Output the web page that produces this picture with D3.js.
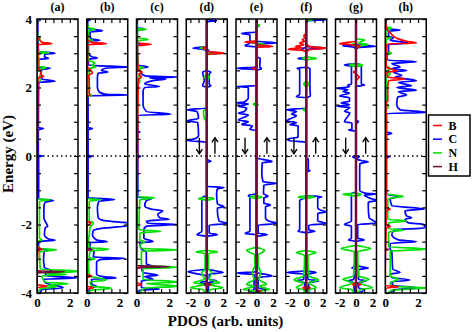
<!DOCTYPE html>
<html><head><meta charset="utf-8">
<script src="https://cdn.jsdelivr.net/npm/d3@7"></script>
<style>
html,body{margin:0;padding:0;background:#fff;}
svg{display:block;}
text{font-family:"Liberation Serif","Times New Roman",serif;font-weight:bold;}
</style></head>
<body>
<svg id="chart" width="474" height="332"></svg>
<script>
// ---------- categories / labels ----------
const panels = ['a','b','c','d','e','f','g','h'];
const spinPanels = ['d','e','f','g'];
const species = ['B','C','N','H'];
const speciesColor = ['#ff0000','#0000ff','#00e000','#6b0f3a'];
const drawOrder = ['C','N','B','H'];
const yTickValues = [-4,-3.5,-3,-2.5,-2,-1.5,-1,-0.5,0,0.5,1,1.5,2,2.5,3,3.5,4];
const yLabelValues = [4,2,0,-2,-4];
const xTicksPlain = [0,0.5,1,1.5,2];
const xTicksSpin = [-2,-1,0,1,2];
const xLabelsPlain = [0,2];
const xLabelsSpin = [-2,0,2];
const arrowDownX = [-0.9,-1.4,-1.5,-1.26];
const arrowUpX = [1.0,1.27,1.15,1.18];
const arrowE = [0.3,0.3,0.3,0.3];

// ---------- panel (a) : [energy, PDOS] ----------
const a_C = [[4,0.05],[3.97,0.2],[3.93,0.05],[3.5,0.05],[3.45,0.15],[3.4,0.05],[3.05,0.1],[3.0,1.1],[2.97,0.5],[2.9,0.45],[2.85,0.7],[2.82,0.1],[2.6,0.1],[2.56,0.8],[2.53,0.3],[2.4,0.25],[2.25,0.3],[2.18,1.1],[2.15,0.1],[0.83,0.08],[0.8,0.4],[0.77,0.08],[0.02,0.08],[0,0.35],[-0.03,0.1],[-1.25,0.1],[-1.3,1.0],[-1.35,0.5],[-1.5,0.42],[-1.8,0.42],[-1.95,0.55],[-2.05,0.65],[-2.1,0.5],[-2.3,0.45],[-2.42,0.7],[-2.46,1.1],[-2.5,0.1],[-2.7,0.1],[-2.74,0.7],[-2.78,0.45],[-3.0,0.4],[-3.25,0.45],[-3.35,0.9],[-3.4,0.5],[-3.5,0.6],[-3.56,2.5],[-3.6,0.4],[-3.7,0.5],[-3.85,1.6],[-3.9,0.3],[-4,0.2]];
const a_N = [[4,0],[3.97,0.1],[3.93,0],[3.45,0.05],[3.42,0.2],[3.38,0],[3.05,0.05],[3.02,0.75],[2.98,0.1],[2.62,0.1],[2.58,0.55],[2.52,0.1],[2.45,0.25],[2.3,0.15],[2.2,0.2],[2.15,0],[-1.25,0],[-1.28,0.8],[-1.32,0.15],[-2.4,0.15],[-2.45,0.3],[-2.5,0],[-2.7,0.1],[-2.74,1.2],[-2.8,0.15],[-3.3,0.2],[-3.37,2.6],[-3.42,0.5],[-3.46,1.8],[-3.5,0.3],[-3.68,0.5],[-3.73,1.9],[-3.78,0.6],[-3.82,1.2],[-3.88,0.2],[-4,0.1]];
const a_B = [[4,0],[3.5,0],[3.4,0.15],[3.32,0.3],[3.28,0.9],[3.25,0.05],[2.6,0.05],[2.5,0.2],[2.38,0.25],[2.32,0.4],[2.28,0.05],[-2.65,0],[-2.72,0.3],[-2.78,0.05],[-3.35,0],[-3.38,0.25],[-3.42,0],[-3.75,0],[-3.8,0.6],[-3.85,0],[-4,0]];
const a_H = [[4,0],[-2.7,0],[-2.73,0.2],[-2.76,0],[-3.35,0],[-3.38,1.7],[-3.41,0],[-4,0]];

// ---------- panel (b) ----------
const b_C = [[4,0.05],[3.97,0.2],[3.94,0.05],[3.72,0.1],[3.66,0.95],[3.62,0.2],[3.5,0.2],[3.42,0.3],[3.38,0.8],[3.35,0.1],[3.0,0.1],[2.9,0.3],[2.86,0.65],[2.83,0.1],[2.65,0.1],[2.6,2.6],[2.57,1.2],[2.5,0.9],[2.45,1.3],[2.42,0.7],[2.3,0.65],[2.0,0.65],[1.88,0.75],[1.8,1.2],[1.78,2.6],[1.76,0.08],[0.83,0.08],[0.8,0.35],[0.77,0.08],[0.02,0.08],[-0.01,0.35],[-0.04,0.08],[-1.22,0.08],[-1.27,1.7],[-1.32,0.75],[-1.5,0.65],[-1.8,0.7],[-1.88,1.0],[-1.93,2.0],[-1.96,2.6],[-2.03,2.6],[-2.07,1.9],[-2.12,0.8],[-2.18,0.4],[-2.3,0.35],[-2.45,0.6],[-2.5,1.25],[-2.53,0.2],[-2.73,0.2],[-2.76,0.45],[-2.95,0.4],[-2.99,2.3],[-3.02,0.9],[-3.1,0.6],[-3.45,0.6],[-3.52,1.0],[-3.56,1.8],[-3.6,0.3],[-3.75,0.3],[-3.8,0.6],[-3.85,0.2],[-4,0.1]];
const b_N = [[4,0],[3.75,0.1],[3.7,0.5],[3.65,0.1],[3.42,0.1],[3.38,0.35],[3.34,0.05],[2.8,0.1],[2.72,0.5],[2.65,0.3],[2.6,0.55],[2.55,0.15],[1.8,0.15],[1.77,0.3],[1.74,0],[-1.24,0],[-1.27,0.85],[-1.32,0.15],[-1.9,0.15],[-1.95,0.4],[-2.1,0.2],[-2.3,0.15],[-2.5,0.1],[-2.68,0.15],[-2.72,1.35],[-2.78,0.2],[-2.97,0.15],[-3.0,0.5],[-3.05,0.1],[-3.5,0.15],[-3.62,1.2],[-3.68,0.2],[-3.8,0.3],[-3.86,1.5],[-3.92,0.3],[-4,0.1]];
const b_B = [[4,0],[3.4,0.05],[3.32,0.3],[3.28,1.2],[3.25,0.05],[2.6,0.05],[2.5,0.25],[2.42,0.35],[2.35,0.1],[2.2,0.15],[1.85,0.15],[1.78,0.2],[1.75,0],[-1.9,0],[-1.95,0.25],[-2.05,0],[-2.7,0],[-2.73,0.3],[-2.77,0],[-3.45,0],[-3.5,0.3],[-3.55,0],[-3.8,0],[-3.85,0.4],[-3.9,0],[-4,0]];
const b_H = [[4,0],[-2.68,0],[-2.72,0.3],[-2.76,0],[-4,0]];

// ---------- panel (c) ----------
const c_C = [[4,0.05],[3.75,0.05],[3.7,0.5],[3.66,0.05],[3.3,0.05],[3.26,0.4],[3.22,0.05],[2.65,0.1],[2.6,0.7],[2.56,0.2],[2.4,0.3],[2.33,0.6],[2.31,2.5],[2.28,0.8],[2.25,1.8],[2.2,1.0],[2.1,0.5],[2.03,1.4],[2.0,0.5],[1.9,0.4],[1.5,0.4],[1.3,0.6],[1.22,2.1],[1.19,0.08],[0.73,0.08],[0.7,0.2],[0.67,0.08],[0.02,0.08],[-0.01,0.25],[-0.04,0.08],[-1.2,0.08],[-1.25,0.9],[-1.3,0.6],[-1.45,0.5],[-1.55,0.9],[-1.6,1.6],[-1.7,1.3],[-1.8,1.4],[-1.85,2.0],[-1.9,0.6],[-1.96,0.7],[-2.0,2.5],[-2.05,0.6],[-2.15,0.45],[-2.4,0.45],[-2.5,1.0],[-2.53,0.2],[-2.72,0.3],[-2.8,0.6],[-3.15,0.6],[-3.2,0.9],[-3.25,0.3],[-3.4,0.4],[-3.48,1.3],[-3.52,0.5],[-3.6,1.0],[-3.65,0.3],[-3.85,0.3],[-3.88,1.4],[-3.92,0.2],[-4,0.1]];
const c_N = [[4,0],[3.73,0.05],[3.7,0.6],[3.66,0.05],[3.45,0.05],[3.4,0.7],[3.36,0.05],[2.62,0.1],[2.58,0.45],[2.55,0.2],[2.45,0.3],[2.35,0.15],[2.2,0.2],[2.0,0.05],[-1.18,0],[-1.22,1.1],[-1.28,0.2],[-2.15,0.15],[-2.2,1.5],[-2.25,0.2],[-2.45,0.2],[-2.5,0.5],[-2.6,0.2],[-2.7,0.3],[-2.74,2.6],[-2.78,0.3],[-3.2,0.3],[-3.24,2.6],[-3.3,0.4],[-3.6,0.4],[-3.68,2.6],[-3.72,0.6],[-3.8,2.6],[-3.86,0.5],[-4,0.2]];
const c_B = [[4,0],[3.3,0.05],[3.26,0.9],[3.22,0.05],[2.5,0.1],[2.45,0.35],[2.4,0.15],[2.3,0.3],[2.25,0.1],[-3.2,0],[-3.24,0.5],[-3.28,0],[-3.7,0],[-3.75,0.3],[-3.8,0],[-4,0]];
const c_H = [[4,0],[-3.2,0],[-3.23,2.0],[-3.26,0],[-4,0]];

// ---------- panel (d) : spin up / spin down ----------
const d_C_up = [[4,0],[3.98,0.3],[3.95,1.2],[3.92,0.1],[3.88,0],[3.2,0],[3.05,0.3],[3.0,1.5],[2.97,0],[2.5,0],[2.45,0.5],[2.4,0.3],[2.1,0.3],[2.05,0.5],[2.0,0],[-0.1,0],[-0.15,0.5],[-0.2,0],[-0.88,0],[-0.92,2.1],[-0.96,1.3],[-1.1,1.2],[-1.4,1.3],[-1.48,2.1],[-1.52,1.3],[-1.6,1.3],[-1.9,1.5],[-1.97,2.5],[-2.02,0.3],[-2.25,0.3],[-2.3,1.3],[-2.35,0],[-3.3,0],[-3.35,1.0],[-3.4,2.0],[-3.45,0.3],[-3.6,0.3],[-3.65,1.2],[-3.7,0.2],[-4,0.2]];
const d_C_dn = [[4,0],[3.2,0],[3.15,1.7],[3.1,0.2],[3.0,0],[2.5,0],[2.45,0.5],[2.2,0.3],[2.05,0.5],[2.0,0],[1.4,0],[1.35,2.4],[1.3,1.2],[1.1,1.0],[1.02,2.4],[0.98,1.1],[0.6,1.0],[0.5,1.5],[0.45,2.4],[0.4,0],[-1.15,0],[-1.2,0.5],[-1.3,0.6],[-2.2,0.6],[-2.3,1.2],[-2.35,0],[-3.3,0],[-3.37,2.3],[-3.45,1.0],[-3.5,0],[-3.65,0],[-3.7,0.8],[-3.75,0],[-4,0]];
const d_N_up = [[4,0],[3.05,0],[3.0,0.9],[2.95,0],[2.4,0],[2.3,0.3],[2.2,0],[-1.2,0],[-1.25,0.9],[-1.3,0],[-2.75,0],[-2.8,1.3],[-2.85,0.2],[-3.3,0.2],[-3.4,0.6],[-3.6,0.3],[-3.7,1.6],[-3.75,0.3],[-3.85,2.0],[-3.9,0.4],[-4,0.3]];
const d_N_dn = [[4,0],[3.2,0],[3.15,0.8],[3.1,0],[2.4,0],[2.3,0.3],[2.2,0],[1.4,0],[1.3,0.4],[1.1,0.3],[1.0,0],[-1.2,0],[-1.25,1.0],[-1.3,0],[-2.75,0],[-2.8,1.3],[-2.85,0.2],[-3.3,0.2],[-3.4,0.6],[-3.6,0.3],[-3.7,1.6],[-3.75,0.3],[-3.85,2.0],[-3.9,0.4],[-4,0.3]];
const d_B_up = [[4,0],[3.05,0],[3.0,2.2],[2.97,0],[-3.7,0],[-3.75,0.5],[-3.8,0],[-4,0]];
const d_B_dn = [[4,0],[3.2,0],[3.15,0.5],[3.1,0],[-4,0]];
const d_H_up = [[4,0.05],[-3.7,0.05],[-3.75,0.4],[-3.8,0.05],[-4,0.05]];
const d_H_dn = [[4,0.05],[-3.7,0.05],[-3.75,0.3],[-3.8,0.05],[-4,0.05]];

// ---------- panel (e) ----------
const e_C_up = [[4,0],[3.85,0],[3.8,0.3],[3.75,0],[3.35,0],[3.3,2.5],[3.27,0.3],[3.2,0],[2.9,0],[2.85,0.45],[2.6,0.4],[2.55,0.6],[2.5,0],[-0.05,0],[-0.1,0.7],[-0.16,1.9],[-0.2,0.7],[-0.5,0.65],[-0.75,0.8],[-0.8,2.5],[-0.85,0.9],[-1.1,0.85],[-1.18,1.4],[-1.22,0.9],[-1.38,0.9],[-1.43,1.7],[-1.48,1.1],[-1.8,1.1],[-1.9,1.5],[-1.97,2.5],[-2.02,0.2],[-2.25,0.2],[-2.3,1.3],[-2.35,0],[-3.4,0],[-3.5,1.9],[-3.55,0.2],[-3.85,0.2],[-3.9,1.2],[-3.95,0.2],[-4,0.2]];
const e_C_dn = [[4,0],[3.62,0],[3.58,1.8],[3.54,0.8],[3.3,0.8],[3.22,1.4],[3.18,0],[2.6,0],[2.56,2.4],[2.52,0],[2.05,0],[2.03,2.4],[2.0,1.0],[1.7,1.0],[1.58,1.5],[1.55,2.4],[1.52,1.0],[1.45,2.2],[1.4,1.2],[1.3,1.5],[1.25,2.2],[1.2,1.0],[1.05,2.2],[1.0,1.0],[0.92,1.8],[0.88,0.5],[0.78,0.8],[0.74,0],[-1.1,0],[-1.15,1.0],[-1.2,0.8],[-2.2,0.8],[-2.26,1.4],[-2.3,0],[-3.38,0],[-3.42,2.4],[-3.46,0.3],[-3.9,0.3],[-3.95,0.8],[-4,0.3]];
const e_N_up = [[4,0],[3.85,0],[3.82,0.4],[3.78,0],[3.3,0],[3.25,1.05],[3.2,0.2],[3.15,0],[1.55,0],[1.5,0.2],[1.45,0],[-1.15,0],[-1.2,0.7],[-1.25,0],[-2.65,0],[-2.75,1.0],[-2.9,0.2],[-3.2,0.2],[-3.4,0.5],[-3.6,0.3],[-3.75,1.2],[-3.8,0.3],[-3.9,1.6],[-3.95,0.3],[-4,0.2]];
const e_N_dn = [[4,0],[3.35,0],[3.32,0.8],[3.28,0],[1.55,0],[1.52,0.4],[1.45,0],[-1.15,0],[-1.2,0.8],[-1.25,0],[-2.65,0],[-2.75,1.2],[-2.9,0.2],[-3.2,0.2],[-3.4,0.5],[-3.6,0.3],[-3.75,1.2],[-3.8,0.3],[-3.9,1.6],[-3.95,0.3],[-4,0.2]];
const e_B_up = [[4,0],[3.25,0],[3.2,2.0],[3.17,0],[-3.9,0],[-3.95,0.5],[-4,0]];
const e_B_dn = [[4,0],[3.36,0],[3.33,1.4],[3.3,0],[2.58,0],[2.56,0.6],[2.53,0],[-4,0]];
const e_H_up = [[4,0.05],[-3.9,0.05],[-3.95,0.3],[-4,0.05]];
const e_H_dn = [[4,0.05],[-4,0.05]];

// ---------- panel (f) ----------
const f_C_up = [[4,0],[3.98,2.5],[3.95,0.3],[3.9,0],[3.2,0],[3.15,2.5],[3.12,0.3],[3.05,0],[2.6,0],[2.55,0.45],[2.0,0.45],[1.75,0.5],[1.7,0],[-0.05,0],[-0.1,0.25],[-0.4,0.25],[-0.43,0.45],[-0.47,0],[-1.15,0],[-1.19,1.9],[-1.23,1.4],[-1.5,1.4],[-1.6,2.0],[-1.63,2.5],[-1.68,1.4],[-1.9,1.4],[-1.97,2.5],[-2.02,0.3],[-2.15,0.3],[-2.2,1.05],[-2.25,0],[-3.35,0],[-3.4,1.2],[-3.45,0.2],[-3.6,0.2],[-3.65,1.5],[-3.7,0.3],[-4,0.3]];
const f_C_dn = [[4,0],[3.2,0],[3.1,0.6],[3.05,0],[2.88,0],[2.85,1.0],[2.8,0],[2.6,0],[2.56,1.1],[2.52,0.8],[1.8,0.8],[1.73,1.2],[1.7,0],[1.4,0],[1.35,2.4],[1.3,1.2],[1.22,1.8],[1.18,1.2],[1.02,2.4],[0.98,1.2],[0.92,2.0],[0.88,1.0],[0.55,1.0],[0.5,2.2],[0.45,2.2],[0.4,0],[-1.2,0],[-1.3,0.8],[-2.15,0.8],[-2.2,1.0],[-2.25,0],[-3.35,0],[-3.4,2.4],[-3.45,0.3],[-3.6,0.3],[-3.65,1.2],[-3.7,0.2],[-4,0.2]];
const f_N_up = [[4,0],[3.98,0.8],[3.94,0],[2.9,0],[2.85,1.25],[2.8,0],[2.2,0],[2.1,0.3],[2.0,0],[-1.15,0],[-1.2,1.0],[-1.25,0],[-2.75,0],[-2.82,1.2],[-2.9,0.2],[-3.5,0.3],[-3.62,1.5],[-3.7,0.3],[-3.85,1.2],[-3.9,0.3],[-4,0.2]];
const f_N_dn = [[4,0],[2.9,0],[2.85,0.5],[2.8,0],[2.2,0],[2.1,0.3],[2.0,0],[1.4,0],[1.35,0.4],[1.3,0],[-1.15,0],[-1.2,1.0],[-1.25,0],[-2.75,0],[-2.82,1.2],[-2.9,0.2],[-3.5,0.3],[-3.62,1.5],[-3.7,0.3],[-3.85,1.2],[-3.9,0.3],[-4,0.2]];
const f_B_up = [[4,0],[3.3,0],[3.2,0.4],[3.15,2.5],[3.1,0.3],[3.0,0],[-3.8,0],[-3.85,0.5],[-3.9,0],[-4,0]];
const f_B_dn = [[4,0],[3.6,0],[3.5,0.3],[3.45,0.1],[3.4,0.5],[3.35,0.2],[3.3,0.8],[3.25,0.3],[3.2,1.3],[3.16,0.5],[3.12,2.2],[3.08,0.3],[3.0,0],[-3.8,0],[-3.85,0.4],[-3.9,0],[-4,0]];
const f_H_up = [[4,0.05],[-3.8,0.05],[-3.85,0.3],[-3.9,0.05],[-4,0.05]];
const f_H_dn = [[4,0.05],[-4,0.05]];

// ---------- panel (g) ----------
const g_C_up = [[4,0],[3.25,0],[3.2,2.5],[3.17,0.3],[3.1,0],[2.7,0],[2.66,0.65],[2.1,0.65],[2.07,1.05],[2.03,0],[1.05,0],[1.0,0.3],[0.95,0],[0.02,0],[-0.02,0.4],[-0.08,0],[-0.13,0.6],[-0.17,1.5],[-0.22,0.5],[-0.3,0.45],[-1.0,0.45],[-1.09,1.2],[-1.11,2.5],[-1.14,1.0],[-1.25,1.9],[-1.3,2.5],[-1.35,1.5],[-1.5,1.5],[-1.8,1.6],[-1.96,2.5],[-2.0,0.2],[-2.4,0.2],[-2.45,1.0],[-2.5,0],[-3.2,0],[-3.27,1.5],[-3.32,0.3],[-3.6,0.3],[-3.65,1.2],[-3.7,0.3],[-3.85,0.3],[-3.9,1.0],[-4,0.3]];
const g_C_dn = [[4,0],[3.25,0],[3.22,1.6],[3.18,0.3],[3.1,0],[2.7,0],[2.66,1.4],[2.62,0.55],[2.1,0.55],[2.07,1.0],[2.02,0.8],[1.98,2.3],[1.94,1.0],[1.88,1.6],[1.84,0.8],[1.75,2.0],[1.7,0.8],[1.6,0.8],[1.55,1.8],[1.5,0.8],[1.45,2.3],[1.42,0.75],[1.3,1.4],[1.26,0.75],[1.0,1.4],[0.96,0.5],[0.78,0.5],[0.76,0.9],[0.72,0],[0.02,0],[-0.02,0.4],[-0.08,0],[-1.05,0],[-1.1,0.6],[-1.15,0.56],[-1.9,0.56],[-2.0,1.4],[-2.05,0.56],[-2.4,0.56],[-2.45,0.9],[-2.5,0],[-3.2,0],[-3.27,0.5],[-3.3,0],[-3.6,0.3],[-3.65,1.0],[-3.7,0.3],[-4,0.2]];
const g_N_up = [[4,0],[3.42,0],[3.39,1.05],[3.3,0.3],[3.25,1.5],[3.2,0],[2.7,0],[2.65,0.8],[2.6,0],[-1.08,0],[-1.12,0.65],[-1.18,0],[-2.6,0],[-2.7,1.8],[-2.8,0.2],[-3.5,0.3],[-3.6,1.6],[-3.7,0.4],[-3.85,2.0],[-3.9,0.5],[-4,0.3]];
const g_N_dn = [[4,0],[3.3,0],[3.25,0.5],[3.2,0],[2.7,0],[2.65,0.8],[2.6,0],[-1.08,0],[-1.12,1.6],[-1.18,0],[-2.6,0],[-2.7,1.8],[-2.8,0.2],[-3.5,0.3],[-3.6,1.6],[-3.7,0.4],[-3.85,2.0],[-3.9,0.5],[-4,0.3]];
const g_B_up = [[4,0],[3.25,0],[3.2,0.5],[3.15,0],[2.4,0],[2.3,0.4],[2.2,0],[-3.7,0],[-3.75,0.6],[-3.8,0],[-4,0]];
const g_B_dn = [[4,0],[3.35,0],[3.28,2.0],[3.24,0.2],[3.15,0],[2.5,0],[2.45,0.3],[2.4,0],[-3.7,0],[-3.75,0.4],[-3.8,0],[-4,0]];
const g_H_up = [[4,0.05],[-3.7,0.05],[-3.75,0.3],[-3.8,0.05],[-4,0.05]];
const g_H_dn = [[4,0.05],[-4,0.05]];

// ---------- panel (h) ----------
const h_C = [[4,0.05],[3.72,0.05],[3.68,0.9],[3.64,0.2],[3.5,0.2],[3.45,0.5],[3.38,0.3],[3.3,1.4],[3.25,0.2],[3.05,0.2],[3.0,0.3],[2.95,0.1],[2.8,0.1],[2.75,1.9],[2.7,0.4],[2.6,0.9],[2.55,0.4],[2.5,1.3],[2.45,0.5],[2.35,1.0],[2.3,0.6],[2.2,1.9],[2.15,0.8],[2.05,1.6],[2.0,0.7],[1.92,1.9],[1.88,0.8],[1.78,1.3],[1.72,0.75],[1.5,0.7],[1.35,0.9],[1.27,2.6],[1.24,0.08],[0.7,0.08],[0.66,0.4],[0.62,0.08],[0.02,0.08],[-0.02,0.25],[-0.06,0.08],[-1.12,0.08],[-1.18,0.8],[-1.25,0.3],[-1.45,0.4],[-1.55,2.4],[-1.6,1.2],[-1.75,1.3],[-1.8,1.6],[-1.85,1.2],[-1.95,1.4],[-2.0,2.4],[-2.1,2.4],[-2.15,0.6],[-2.3,0.4],[-2.45,0.8],[-2.5,1.9],[-2.55,0.3],[-2.72,0.3],[-2.8,0.4],[-3.3,0.45],[-3.4,0.9],[-3.45,0.3],[-3.55,0.4],[-3.62,1.5],[-3.68,0.4],[-3.78,0.5],[-3.85,2.0],[-3.9,0.6],[-4,0.3]];
const h_N = [[4,0],[3.78,0.05],[3.73,0.4],[3.68,0.05],[3.5,0.05],[3.45,0.35],[3.4,0.05],[3.05,0.05],[3.0,0.4],[2.95,0.05],[2.65,0.05],[2.55,0.3],[2.45,0.05],[2.4,0.3],[2.3,0.05],[1.55,0.05],[1.45,0.2],[1.35,0.05],[-1.1,0],[-1.18,1.1],[-1.25,0.15],[-1.85,0.15],[-1.9,1.3],[-1.95,0.2],[-2.12,0.2],[-2.17,1.1],[-2.22,0.2],[-2.65,0.2],[-2.72,2.6],[-2.78,0.3],[-3.5,0.3],[-3.6,0.8],[-3.7,0.3],[-3.8,0.4],[-3.85,2.6],[-3.92,0.4],[-4,0.2]];
const h_B = [[4,0],[3.7,0.1],[3.6,0.3],[3.5,0.5],[3.42,0.8],[3.35,1.3],[3.3,1.9],[3.27,0.1],[2.6,0.05],[2.52,0.5],[2.48,0.7],[2.45,0.1],[2.3,0.15],[2.25,1.2],[2.2,0.2],[2.0,0.15],[1.6,0.15],[1.55,0.05],[-1.5,0.05],[-1.55,0.3],[-1.6,0.05],[-2.0,0.05],[-2.05,0.3],[-2.1,0.05],[-3.78,0],[-3.82,0.8],[-3.86,0],[-4,0]];
const h_H = [[4,0],[-2.7,0],[-2.73,0.2],[-2.76,0],[-4,0]];

// ---------- lookup table built from the arrays ----------
const plainData = {
  a:{B:a_B,C:a_C,N:a_N,H:a_H}, b:{B:b_B,C:b_C,N:b_N,H:b_H},
  c:{B:c_B,C:c_C,N:c_N,H:c_H}, h:{B:h_B,C:h_C,N:h_N,H:h_H}
};
const spinData = {
  d:{B:[d_B_up,d_B_dn],C:[d_C_up,d_C_dn],N:[d_N_up,d_N_dn],H:[d_H_up,d_H_dn]},
  e:{B:[e_B_up,e_B_dn],C:[e_C_up,e_C_dn],N:[e_N_up,e_N_dn],H:[e_H_up,e_H_dn]},
  f:{B:[f_B_up,f_B_dn],C:[f_C_up,f_C_dn],N:[f_N_up,f_N_dn],H:[f_H_up,f_H_dn]},
  g:{B:[g_B_up,g_B_dn],C:[g_C_up,g_C_dn],N:[g_N_up,g_N_dn],H:[g_H_up,g_H_dn]}
};

// ---------- drawing ----------
const svg = d3.select('#chart');
const color = d3.scaleOrdinal().domain(species).range(speciesColor);
const px = d3.scaleBand().domain(panels).range([37, 426.25]).paddingInner(0.176).paddingOuter(0);
const y = d3.scaleLinear().domain([-4, 4]).range([293, 19]);
const bw = px.bandwidth();
const fontSz = '13px';
const lw = 1.7;

function drawArrow(g, x, yc, dir) {
  // dir = +1 up, -1 down ; 16 px long arrow with open head
  const half = 8, tip = yc - dir * half, tail = yc + dir * half;
  g.append('line').attr('x1', x).attr('x2', x).attr('y1', tail).attr('y2', tip)
    .attr('stroke', '#000').attr('stroke-width', 1.4);
  g.append('path')
    .attr('d', `M${x - 3},${tip + dir * 4.5} L${x},${tip} L${x + 3},${tip + dir * 4.5}`)
    .attr('fill', 'none').attr('stroke', '#000').attr('stroke-width', 1.4);
}

panels.forEach(p => {
  const isSpin = spinPanels.includes(p);
  const x0 = px(p);
  const xs = d3.scaleLinear().domain(isSpin ? [-2.5, 2.5] : [0, 2.5]).range([x0, x0 + bw]);
  const g = svg.append('g');

  g.append('clipPath').attr('id', 'clip-' + p)
    .append('rect').attr('x', x0).attr('y', y(4)).attr('width', bw).attr('height', y(-4) - y(4));
  const curves = g.append('g').attr('clip-path', `url(#clip-${p})`);

  drawOrder.forEach(s => {
    if (isSpin) {
      const [up, dn] = spinData[p][s];
      const lnUp = d3.line().x(d => xs(d[1])).y(d => y(d[0])).curve(d3.curveMonotoneY);
      const lnDn = d3.line().x(d => xs(-d[1])).y(d => y(d[0])).curve(d3.curveMonotoneY);
      curves.append('path').attr('d', lnDn(dn)).attr('fill', 'none')
        .attr('stroke', color(s)).attr('stroke-width', lw).attr('stroke-linejoin', 'round');
      curves.append('path').attr('d', lnUp(up)).attr('fill', 'none')
        .attr('stroke', color(s)).attr('stroke-width', lw).attr('stroke-linejoin', 'round');
    } else {
      const ln = d3.line().x(d => xs(d[1])).y(d => y(d[0])).curve(d3.curveMonotoneY);
      curves.append('path').attr('d', ln(plainData[p][s])).attr('fill', 'none')
        .attr('stroke', color(s)).attr('stroke-width', lw).attr('stroke-linejoin', 'round');
    }
  });

  // frame
  g.append('rect').attr('x', x0).attr('y', y(4)).attr('width', bw).attr('height', y(-4) - y(4))
    .attr('fill', 'none').attr('stroke', '#000').attr('stroke-width', 1.5);

  // inward ticks
  const left = d3.axisLeft(y).tickValues(yTickValues).tickSize(-4).tickSizeOuter(0)
    .tickFormat(d => (p === 'a' && yLabelValues.includes(d)) ? String(d) : '').tickPadding(5);
  const right = d3.axisRight(y).tickValues(yTickValues).tickSize(-4).tickSizeOuter(0).tickFormat('');
  const xt = isSpin ? xTicksSpin : xTicksPlain;
  const xl = isSpin ? xLabelsSpin : xLabelsPlain;
  const top = d3.axisTop(xs).tickValues(xt).tickSize(-4).tickSizeOuter(0).tickFormat('');
  const bottom = d3.axisBottom(xs).tickValues(xt).tickSize(-4).tickSizeOuter(0).tickPadding(5)
    .tickFormat(d => xl.includes(d) ? String(d) : '');

  [[left, `translate(${x0},0)`], [right, `translate(${x0 + bw},0)`],
   [top, `translate(0,${y(4)})`], [bottom, `translate(0,${y(-4)})`]].forEach(([ax, tr]) => {
    const a = g.append('g').attr('transform', tr).call(ax);
    a.select('.domain').remove();
    a.selectAll('line').attr('stroke', '#000').attr('stroke-width', 1.2);
    a.selectAll('text').attr('font-family', '"Liberation Serif", serif').attr('font-weight', 'bold')
      .attr('font-size', fontSz).attr('fill', '#000');
  });

  // panel title
  g.append('text').attr('x', x0 + bw / 2).attr('y', 11).attr('text-anchor', 'middle')
    .attr('font-size', '12px').text(`(${p})`);

  // spin arrows
  if (isSpin) {
    const i = spinPanels.indexOf(p);
    drawArrow(g, xs(arrowDownX[i]), y(arrowE[i]), -1);
    drawArrow(g, xs(arrowUpX[i]), y(arrowE[i]), 1);
  }
});

// Fermi level dotted line
svg.append('line').attr('x1', 34).attr('x2', 470).attr('y1', y(0)).attr('y2', y(0))
  .attr('stroke', '#000').attr('stroke-width', 1.5).attr('stroke-dasharray', '1.5,3');

// legend
const lg = svg.append('g');
lg.append('rect').attr('x', 428.5).attr('y', 115).attr('width', 41.5).attr('height', 61)
  .attr('fill', '#fff').attr('stroke', '#000').attr('stroke-width', 1.5);
const ly = d3.scalePoint().domain(species).range([125.5, 166.6]);
species.forEach(s => {
  lg.append('line').attr('x1', 433).attr('x2', 442).attr('y1', ly(s)).attr('y2', ly(s))
    .attr('stroke', color(s)).attr('stroke-width', 1.5);
  lg.append('text').attr('x', 448.5).attr('y', ly(s)).attr('dy', '0.35em')
    .attr('font-size', '12px').text(s);
});

// axis titles
svg.append('text').attr('x', 225.5).attr('y', 326).attr('text-anchor', 'middle')
  .attr('font-size', '15px').text('PDOS (arb. units)');
svg.append('text').attr('transform', 'translate(13,154) rotate(-90)').attr('text-anchor', 'middle')
  .attr('font-size', '15px').text('Energy (eV)');
</script>
</body></html>
